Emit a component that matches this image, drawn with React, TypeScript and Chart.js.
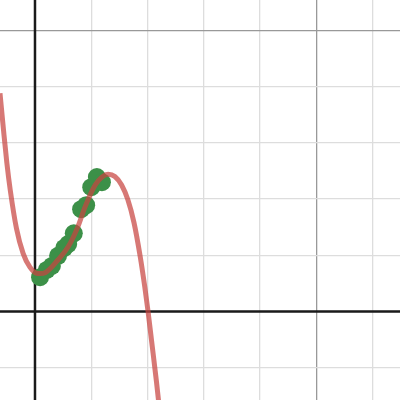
import { useEffect, useRef } from "react"
import { Chart, registerables } from "chart.js"

Chart.register(...registerables)

// observed points (green)
const pointX = [0.09, 0.21, 0.3, 0.41, 0.52, 0.59, 0.69, 0.82, 0.91, 1.0, 1.1, 1.19]
const pointY = [0.61, 0.74, 0.81, 0.99, 1.13, 1.2, 1.39, 1.82, 1.89, 2.21, 2.39, 2.3]

// fitted curve (red)
const curveX = [-0.622, -0.56, -0.5, -0.44, -0.33, -0.21, -0.09, 0.03, 0.09, 0.18, 0.41, 0.59, 0.76, 0.89, 1.07, 1.19, 1.3, 1.42, 1.54, 1.65, 1.76, 1.87, 1.95, 2.01, 2.07, 2.16, 2.23]
const curveY = [3.88, 3.23, 2.64, 2.16, 1.48, 1.03, 0.79, 0.68, 0.675, 0.69, 0.92, 1.15, 1.5, 1.86, 2.25, 2.39, 2.44, 2.4, 2.25, 1.99, 1.58, 0.98, 0.45, 0.0, -0.5, -1.25, -1.9]

const xMin = -0.622
const xMax = 6.489
const yMin = -1.573
const yMax = 5.538

function gridColor(v: number) {
    if (v === 0) return "rgba(0,0,0,0)"
    if (v % 5 === 0) return "#999999"
    return "#dddddd"
}

export default function App() {
    const chartRef = useRef<HTMLCanvasElement>(null)
    const chartInstance = useRef<Chart | null>(null)

    useEffect(() => {
        document.body.style.margin = "0"
        if (!chartRef.current) return
        const ctx = chartRef.current.getContext("2d")
        if (!ctx) return

        if (chartInstance.current) chartInstance.current.destroy()

        // x and y axes drawn over the grid
        const axesPlugin = {
            id: "axes",
            beforeDatasetsDraw(chart: any) {
                const c = chart.ctx
                const x0 = chart.scales.x.getPixelForValue(0)
                const y0 = chart.scales.y.getPixelForValue(0)
                const { left, right, top, bottom } = chart.chartArea
                c.save()
                c.strokeStyle = "#1a1a1a"
                c.lineWidth = 2.5
                c.beginPath()
                c.moveTo(x0, top)
                c.lineTo(x0, bottom)
                c.moveTo(left, y0)
                c.lineTo(right, y0)
                c.stroke()
                c.restore()
            },
        }

        const intTicks = (scale: any) => {
            const ticks = []
            for (let v = Math.ceil(scale.min); v <= Math.floor(scale.max); v++) ticks.push({ value: v })
            scale.ticks = ticks
        }

        chartInstance.current = new Chart(ctx, {
            type: "scatter",
            data: {
                datasets: [
                    {
                        type: "line",
                        data: curveX.map((x, i) => ({ x, y: curveY[i] })),
                        borderColor: "rgba(199,68,64,0.72)",
                        borderWidth: 5,
                        pointRadius: 0,
                        cubicInterpolationMode: "monotone",
                        fill: false,
                    } as any,
                    {
                        data: pointX.map((x, i) => ({ x, y: pointY[i] })),
                        backgroundColor: "#3c9048",
                        borderWidth: 0,
                        pointRadius: 9,
                    },
                ],
            },
            options: {
                responsive: false,
                animation: false,
                layout: { padding: 0, autoPadding: false },
                plugins: {
                    legend: { display: false },
                    tooltip: { enabled: false },
                },
                scales: {
                    x: {
                        type: "linear",
                        min: xMin,
                        max: xMax,
                        afterBuildTicks: intTicks,
                        ticks: { display: false },
                        border: { display: false },
                        grid: {
                            drawTicks: false,
                            lineWidth: 1.3,
                            color: (c: any) => gridColor(c.tick.value),
                        },
                    },
                    y: {
                        type: "linear",
                        min: yMin,
                        max: yMax,
                        afterBuildTicks: intTicks,
                        ticks: { display: false },
                        border: { display: false },
                        grid: {
                            drawTicks: false,
                            lineWidth: 1.3,
                            color: (c: any) => gridColor(c.tick.value),
                        },
                    },
                },
            },
            plugins: [axesPlugin],
        })

        return () => {
            if (chartInstance.current) chartInstance.current.destroy()
        }
    }, [])

    return (
        <div style={{ width: 400, height: 400 }}>
            <canvas ref={chartRef} width={400} height={400}></canvas>
        </div>
    )
}
